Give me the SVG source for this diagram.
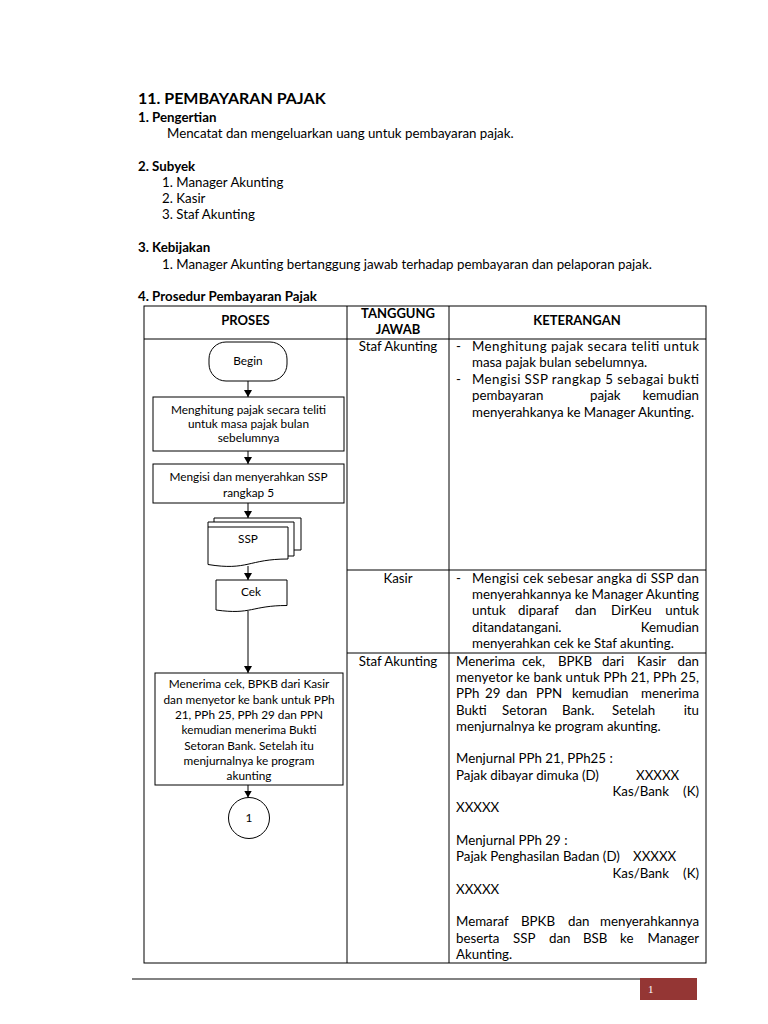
<svg xmlns="http://www.w3.org/2000/svg" width="768" height="1024" viewBox="0 0 768 1024">
<style>
text { font-family: Lato, "Open Sans", "Liberation Sans", sans-serif; fill: #000; }
.t { font-size: 13.3px; }
.b { font-weight: bold; }
.h { font-size: 13px; font-weight: bold; text-anchor: middle; }
.f { font-size: 11.8px; text-anchor: middle; }
.e { text-anchor: end; }
.m { text-anchor: middle; }
.ln { stroke: #000; stroke-width: 1; fill: none; }
.shape { stroke: #000; stroke-width: 1; fill: #fff; }
</style>
<defs>
<marker id="arr" markerUnits="userSpaceOnUse" markerWidth="8" markerHeight="8" refX="7" refY="4" orient="auto">
<path d="M0,0 L7,4 L0,8 Z" fill="#000"/>
</marker>
</defs>
<rect width="768" height="1024" fill="#fff"/>

<g id="header-text">
<text x="138" y="104" style="font-size:16px;font-weight:bold">11. PEMBAYARAN PAJAK</text>
<text x="138" y="122" class="t b">1. Pengertian</text>
<text x="167" y="137.5" class="t">Mencatat dan mengeluarkan uang untuk pembayaran pajak.</text>
<text x="138" y="170.5" class="t b">2. Subyek</text>
<text x="162" y="186.5" class="t">1. Manager Akunting</text>
<text x="162" y="202.5" class="t">2. Kasir</text>
<text x="162" y="218.5" class="t">3. Staf Akunting</text>
<text x="138" y="251.5" class="t b">3. Kebijakan</text>
<text x="162" y="268.5" class="t">1. Manager Akunting bertanggung jawab terhadap pembayaran dan pelaporan pajak.</text>
<text x="138" y="300.5" class="t b">4. Prosedur Pembayaran Pajak</text>
</g>

<g id="table">
<rect x="144" y="306" width="562" height="657" class="ln"/>
<line x1="144" y1="339" x2="706" y2="339" class="ln"/>
<line x1="347" y1="306" x2="347" y2="963" class="ln"/>
<line x1="449" y1="306" x2="449" y2="963" class="ln"/>
<line x1="347" y1="570" x2="706" y2="570" class="ln"/>
<line x1="347" y1="653" x2="706" y2="653" class="ln"/>
<text x="245.5" y="325" class="h">PROSES</text>
<text x="398" y="318" class="h">TANGGUNG</text>
<text x="398" y="334" class="h">JAWAB</text>
<text x="577" y="325" class="h">KETERANGAN</text>
<text x="398" y="350.5" class="t m">Staf Akunting</text>
<text x="398" y="582.5" class="t m">Kasir</text>
<text x="398" y="665.5" class="t m">Staf Akunting</text>
</g>

<g id="keterangan">
<text x="456" y="350.5" class="t">-</text>
<text x="472" y="350.5" class="t" textLength="227" lengthAdjust="spacing">Menghitung pajak secara teliti untuk</text>
<text x="472" y="367" class="t">masa pajak bulan sebelumnya.</text>
<text x="456" y="383.5" class="t">-</text>
<text x="472" y="383.5" class="t" textLength="227" lengthAdjust="spacing">Mengisi SSP rangkap 5 sebagai bukti</text>
<text x="472" y="400" class="t">pembayaran<tspan x="590">pajak</tspan></text>
<text x="699" y="400" class="t e">kemudian</text>
<text x="472" y="416.5" class="t">menyerahkanya ke Manager Akunting.</text>

<text x="456" y="582.5" class="t">-</text>
<text x="472" y="582.5" class="t" textLength="227" lengthAdjust="spacing">Mengisi cek sebesar angka di SSP dan</text>
<text x="472" y="598.5" class="t" textLength="227" lengthAdjust="spacing">menyerahkannya ke Manager Akunting</text>
<text x="472" y="614.5" class="t">untuk<tspan x="518">diparaf</tspan><tspan x="575">dan</tspan><tspan x="611">DirKeu</tspan></text>
<text x="699" y="614.5" class="t e">untuk</text>
<text x="472" y="631.5" class="t">ditandatangani.</text>
<text x="699" y="631.5" class="t e">Kemudian</text>
<text x="472" y="647.5" class="t">menyerahkan cek ke Staf akunting.</text>

<text x="456" y="665.5" class="t">Menerima<tspan x="522">cek,</tspan><tspan x="558">BPKB</tspan><tspan x="602">dari</tspan><tspan x="637">Kasir</tspan></text>
<text x="699" y="665.5" class="t e">dan</text>
<text x="456" y="682" class="t" textLength="243" lengthAdjust="spacing">menyetor ke bank untuk PPh 21, PPh 25,</text>
<text x="456" y="698" class="t">PPh<tspan x="485">29</tspan><tspan x="506">dan</tspan><tspan x="536">PPN</tspan><tspan x="572">kemudian</tspan></text>
<text x="699" y="698" class="t e">menerima</text>
<text x="456" y="714.5" class="t">Bukti<tspan x="502">Setoran</tspan><tspan x="562">Bank.</tspan><tspan x="612">Setelah</tspan></text>
<text x="699" y="714.5" class="t e">itu</text>
<text x="456" y="730.5" class="t">menjurnalnya ke program akunting.</text>
<text x="456" y="763" class="t">Menjurnal PPh 21, PPh25 :</text>
<text x="456" y="779.5" class="t">Pajak dibayar dimuka (D)<tspan x="636">XXXXX</tspan></text>
<text x="669" y="796" class="t e">Kas/Bank</text>
<text x="699" y="796" class="t e">(K)</text>
<text x="456" y="812" class="t">XXXXX</text>
<text x="456" y="844.5" class="t">Menjurnal PPh 29 :</text>
<text x="456" y="861" class="t">Pajak Penghasilan Badan (D)<tspan x="633">XXXXX</tspan></text>
<text x="669" y="877.5" class="t e">Kas/Bank</text>
<text x="699" y="877.5" class="t e">(K)</text>
<text x="456" y="893.5" class="t">XXXXX</text>
<text x="456" y="926" class="t">Memaraf<tspan x="521">BPKB</tspan><tspan x="568">dan</tspan></text>
<text x="699" y="926" class="t e">menyerahkannya</text>
<text x="456" y="942.5" class="t">beserta<tspan x="513">SSP</tspan><tspan x="549">dan</tspan><tspan x="583">BSB</tspan><tspan x="620">ke</tspan></text>
<text x="699" y="942.5" class="t e">Manager</text>
<text x="456" y="958.5" class="t">Akunting.</text>
</g>

<g id="connectors">
<line x1="248" y1="381" x2="248" y2="397" class="ln" marker-end="url(#arr)"/>
<line x1="248" y1="451" x2="248" y2="464" class="ln" marker-end="url(#arr)"/>
<line x1="248" y1="503" x2="248" y2="518" class="ln" marker-end="url(#arr)"/>
<line x1="248" y1="566" x2="248" y2="580" class="ln" marker-end="url(#arr)"/>
<line x1="248" y1="611" x2="248" y2="673" class="ln" marker-end="url(#arr)"/>
<line x1="248" y1="785" x2="248" y2="797.5" class="ln" marker-end="url(#arr)"/>
</g>

<g id="node-begin">
<rect x="209" y="342" width="78" height="39" rx="17" class="shape"/>
<text x="248" y="365" class="f">Begin</text>
</g>

<g id="node-hitung">
<rect x="153" y="397" width="191" height="54" class="shape"/>
<text x="248.5" y="414" class="f">Menghitung pajak secara teliti</text>
<text x="248.5" y="428" class="f">untuk masa pajak bulan</text>
<text x="248.5" y="442" class="f">sebelumnya</text>
</g>

<g id="node-mengisi">
<rect x="153" y="464" width="191" height="39" class="shape"/>
<text x="248.5" y="481" class="f">Mengisi dan menyerahkan SSP</text>
<text x="248.5" y="497" class="f">rangkap 5</text>
</g>

<g id="node-ssp">
<path d="M214,522 V518 H301 V550 H294" class="shape"/>
<path d="M208,527 V522 H294 V556 H288" class="shape"/>
<path d="M208,527 H288 V559 C248,559 248,571 208,564.5 Z" class="shape"/>
<text x="248" y="543" class="f">SSP</text>
</g>

<g id="node-cek">
<path d="M216,580 H287 V605.5 C251.5,605.5 251.5,615 216,610 Z" class="shape"/>
<text x="251" y="596" class="f">Cek</text>
</g>

<g id="node-menerima">
<rect x="155" y="673" width="188" height="112" class="shape"/>
<text x="249" y="688" class="f">Menerima cek, BPKB dari Kasir</text>
<text x="249" y="703.5" class="f">dan menyetor ke bank untuk PPh</text>
<text x="249" y="719" class="f">21, PPh 25, PPh 29 dan PPN</text>
<text x="249" y="734" class="f">kemudian menerima Bukti</text>
<text x="249" y="749.5" class="f">Setoran Bank. Setelah itu</text>
<text x="249" y="765" class="f">menjurnalnya ke program</text>
<text x="249" y="780" class="f">akunting</text>
</g>

<g id="node-connector-1">
<circle cx="249" cy="818" r="20.5" class="shape"/>
<text x="249" y="822" class="f">1</text>
</g>

<g id="footer">
<line x1="132" y1="979" x2="640" y2="979" stroke="#595959" stroke-width="1.5"/>
<rect x="640" y="978" width="57" height="22" fill="#943634"/>
<text x="648" y="993" style="font-family:'Liberation Serif',serif;font-size:11px;fill:#fff">1</text>
</g>
</svg>
